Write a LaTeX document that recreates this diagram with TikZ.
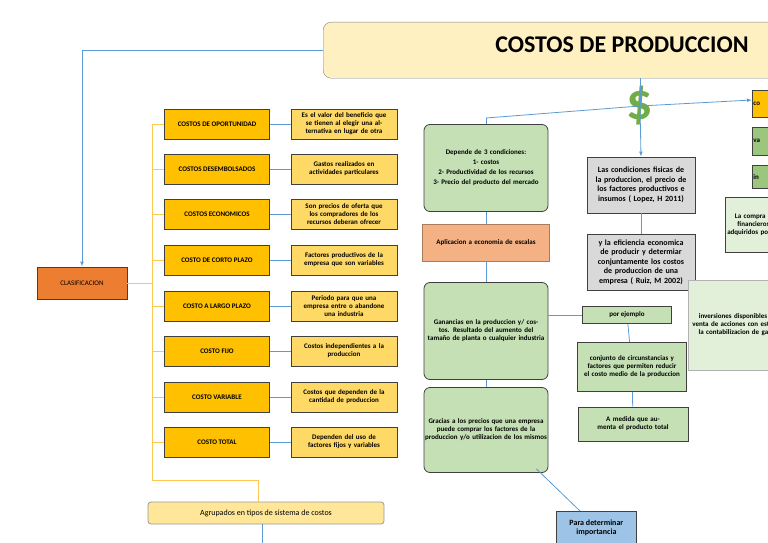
\documentclass[tikz,border=0pt]{standalone}
\usepackage{fontspec}
\setmainfont{Carlito}
\usetikzlibrary{arrows.meta,positioning}
\definecolor{amarillo}{HTML}{FFC000}
\definecolor{amarclaro}{HTML}{FFD966}
\definecolor{crema}{HTML}{FFE699}
\definecolor{naranja}{HTML}{ED7D31}
\definecolor{salmon}{HTML}{F4B183}
\definecolor{verde}{HTML}{C5E0B4}
\definecolor{verdeosc}{HTML}{70AD47}
\definecolor{verdeclaro}{HTML}{E2F0D9}
\definecolor{gris}{HTML}{D9D9D9}
\definecolor{azul}{HTML}{5B9BD5}
\definecolor{azulclaro}{HTML}{9DC3E6}
\tikzset{
  caja/.style={draw=black!75, line width=0.8pt, align=center, inner sep=1pt, font=\fontsize{7}{8}\selectfont},
  tipo/.style={caja, fill=amarillo, minimum width=105pt, minimum height=30pt, font=\fontsize{7}{8}\selectfont\bfseries},
  defi/.style={caja, fill=amarclaro, text width=104pt, minimum height=30pt, font=\fontsize{7}{8}\selectfont\bfseries},
  cond/.style={caja, fill=verde, rounded corners=6pt, text width=122pt},
  gcaja/.style={caja, fill=gris, text width=106pt},
  corte/.style={caja, text width=46pt, align=left, anchor=west, font=\fontsize{7}{8}\selectfont\bfseries},
  azlinea/.style={azul, line width=0.8pt},
  amlinea/.style={amarclaro!80!orange, line width=1pt},
}
\begin{document}
\begin{tikzpicture}[x=1pt,y=-1pt]
\useasboundingbox (0,0) rectangle (768,543);
\clip (0,0) rectangle (768,543);

% titulo
\node[draw=black!50, fill=crema!60, rounded corners=8pt, minimum width=470pt, minimum height=56pt, anchor=north west] (titulo) at (323,22) {};
\node[font=\fontsize{24}{26}\selectfont\bfseries] (tit) at (622,45) {COSTOS DE PRODUCCION};

% clasificacion
\node[caja, fill=naranja, minimum width=90pt, minimum height=32pt] (clasif) at (82,283) {CLASIFICACION};
\draw[azlinea, -{Latex[length=5pt]}] (titulo.west |- 0,50) -| (clasif.north);

% tipos de costo
\foreach \n/\y/\t/\d in {
  1/124/COSTOS DE OPORTUNIDAD/{Es el valor del beneficio que se tienen al elegir una alternativa en lugar de otra},
  2/169/COSTOS DESEMBOLSADOS/{Gastos realizados en\\actividades particulares},
  3/214/COSTOS ECONOMICOS/{Son precios de oferta que los compradores de los recursos deberan ofrecer},
  4/260/COSTO DE CORTO PLAZO/{Factores productivos de la empresa que son variables},
  5/306/COSTO A LARGO PLAZO/{Periodo para que una\\empresa entre o abandone\\una industria},
  6/351/COSTO FIJO/{Costos independientes a la\\produccion},
  7/397/COSTO VARIABLE/{Costos que dependen de la\\cantidad de produccion},
  8/442/COSTO TOTAL/{Dependen del uso de\\factores fijos y variables}}
{
  \node[tipo] (t\n) at (217,\y) {\t};
  \node[defi] (d\n) at (344,\y) {\d};
  \draw[azlinea] (t\n) -- (d\n);
  \draw[amlinea] (152,\y) -- (t\n.west);
}
\draw[amlinea] (152,124) -- (152,480) -- (258,480);
\draw[amlinea] (clasif.east) -- (152,283);

% agrupados
\node[caja, fill=crema, draw=black!40, rounded corners=3pt, minimum width=236pt, minimum height=22pt, font=\fontsize{8}{9}\selectfont] (agrup) at (266,513) {Agrupados en tipos de sistema de costos};
\draw[amlinea] (258,480) -- (agrup.north -| 258,0);
\draw[azlinea] (agrup.south -| 262,0) -- (262,543);

% dolar
\node[text=verdeosc, font=\fontsize{52}{52}\selectfont\bfseries] (dolar) at (640,106) {\$};
\coordinate (izq) at (486,118);
\draw[azlinea] (titulo.south -| dolar) -- (dolar.center);
\draw[azlinea] (izq) -- (dolar.center);
\draw[azlinea, -{Latex[length=5pt]}] (dolar.center) -- (752,100);

% columna verde
\node[cond, minimum height=87pt] (c1) at (486,168) {\textbf{Depende de 3 condiciones:}\\[2pt]\textbf{1- costos}\\[2pt]\textbf{2- Productividad de los recursos}\\[2pt]\textbf{3- Precio del producto del mercado}};
\node[caja, fill=salmon, draw=salmon!70!black, text width=125pt, minimum height=37pt] (c2) at (486,243) {\textbf{Aplicacion a economia de escalas}};
\node[cond, minimum height=97pt] (c3) at (486,331) {\textbf{Ganancias en la produccion y/ costos. Resultado del aumento del tamaño de planta o cualquier industria}};
\node[cond, minimum height=85pt] (c4) at (486,430) {\textbf{Gracias a los precios que una empresa puede comprar los factores de la produccion y/o utilizacion de los mismos}};
\draw[azlinea] (izq) -- (c1.north);
\draw[azlinea] (c1) -- (c2);
\draw[azlinea] (c2) -- (c3);
\draw[azlinea] (c3) -- (c4);

% columna gris
\node[gcaja, minimum height=56pt, font=\fontsize{8}{9.5}\selectfont\bfseries] (g1) at (641,185) {Las condiciones fisicas de la produccion, el precio de los factores productivos e insumos ( Lopez, H 2011)};
\node[gcaja, minimum height=56pt, font=\fontsize{8}{9.5}\selectfont\bfseries] (g2) at (641,262) {y la eficiencia economica de producir y determiar conjuntamente los costos de produccion de una empresa ( Ruiz, M 2002)};
\draw[azlinea, -{Latex[length=5pt]}] (dolar.center) -- (g1.north);
\draw[azlinea] (g1) -- (g2);

% por ejemplo
\node[caja, fill=verde, minimum width=89pt, minimum height=17pt] (ej) at (627,315) {\textbf{por ejemplo}};
\node[caja, fill=verde, text width=107pt, minimum height=49pt] (ej1) at (632,367) {\textbf{conjunto de circunstancias y factores que permiten reducir el costo medio de la produccion}};
\node[caja, fill=verde, text width=108pt, minimum height=34pt] (ej2) at (633,424) {\textbf{A medida que aumenta el producto total}};
\draw[azlinea] (c3.east |- ej) -- (ej);
\draw[azlinea] (ej) -- (ej1);
\draw[azlinea] (ej1) -- (ej2);

% importancia
\node[caja, fill=azulclaro, minimum width=80pt, minimum height=32pt, font=\fontsize{8}{9}\selectfont\bfseries, anchor=north west] (imp) at (556,511) {Para determinar\\importancia};
\draw[azlinea] (c4.south east) ++(-12,-4) -- (imp.north -| 580,0);

% lado derecho (cortado)
\node[corte, fill=amarillo, minimum height=27pt] (r1) at (752,104) {co};
\node[corte, fill=verdeosc!70, minimum height=28pt] (r2) at (752,141) {va};
\node[corte, fill=verdeosc!70, minimum height=23pt] (r3) at (752,177) {in};
\node[caja, fill=verdeclaro, text width=80pt, minimum height=55pt, anchor=west, font=\fontsize{7}{8}\selectfont\bfseries] (r4) at (725,225) {La compra de activos financieros que son adquiridos por la empresa};
\node[caja, fill=verdeclaro, draw=black!30, text width=110pt, minimum height=90pt, anchor=west, font=\fontsize{7}{8}\selectfont\bfseries] (r5) at (688,325) {inversiones disponibles para la venta de acciones con esta realizar la contabilizacion de ganancias};
\end{tikzpicture}
\end{document}
